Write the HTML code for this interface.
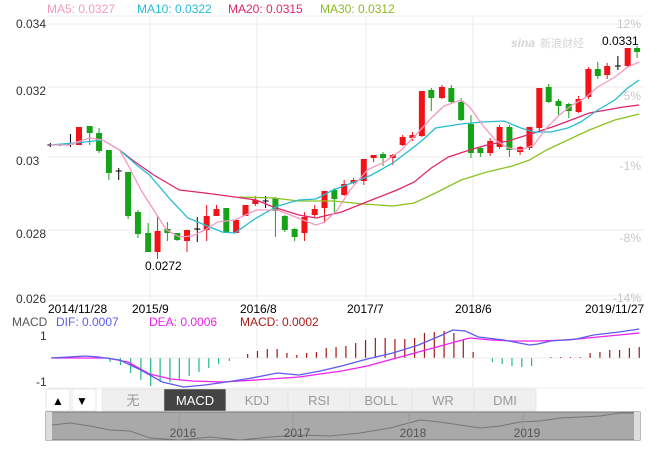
<!DOCTYPE html>
<html><head><meta charset="utf-8"><style>
body{margin:0;background:#fff;width:669px;height:452px;overflow:hidden;font-family:"Liberation Sans","Noto Sans CJK SC",sans-serif}
svg text{font-family:"Liberation Sans","Noto Sans CJK SC",sans-serif}
</style></head><body>
<svg id="s" width="669" height="452" xmlns="http://www.w3.org/2000/svg"></svg>
<script>
const K=0.427,X=z=>z*K;
let h='';
[24,87,157,230,296].forEach(y=>h+=`<line x1="48" x2="643" y1="${y}" y2="${y}" stroke="#ebebeb"/>`);
[150,257,366,473].forEach(x=>h+=`<line x1="${x}" x2="${x}" y1="16" y2="300" stroke="#ebebeb"/><line x1="${x}" x2="${x}" y1="328" y2="388" stroke="#ebebeb"/>`);
h+=`<line x1="48" x2="643" y1="16" y2="16" stroke="#eee"/><line x1="48" x2="643" y1="300" y2="300" stroke="#eee"/><line x1="48" x2="643" y1="388" y2="388" stroke="#eee"/>`;
h+=`<text x="47" y="13" font-size="12" fill="#f39ac0">MA5: 0.0327</text><text x="137" y="13" font-size="12" fill="#27bcd3">MA10: 0.0322</text><text x="228" y="13" font-size="12" fill="#e0266d">MA20: 0.0315</text><text x="320" y="13" font-size="12" fill="#8cbb1f">MA30: 0.0312</text>`;
[[24,'0.034'],[91,'0.032'],[161,'0.03'],[234,'0.028'],[299,'0.026']].forEach(a=>h+=`<text x="16" y="${a[0]+4}" font-size="12" fill="#333">${a[1]}</text>`);
[[28,'12%'],[100,'5%'],[170,'-1%'],[242,'-8%'],[302,'-14%']].forEach(a=>h+=`<text x="641" y="${a[0]}" font-size="12" fill="#c8c8c8" text-anchor="end">${a[1]}</text>`);
h+=`<text x="511" y="47" font-size="12" fill="#d5d5d5" font-style="italic" font-weight="bold">sina</text><text x="540" y="47" font-size="11" fill="#d5d5d5">新浪财经</text>`;
const C=[
['c',118,145,145,143,147],['c',140,145,145,144,146],['c',165,144,144,134,147],['r',185,145,127,127,145],['g',210,126,133,126,145],['g',232,133,151,128,153],
['g',255,150,173,150,180],['c',278,171,171,168,180],['g',300,172,216,172,219],['g',323,212,234,210,238],['g',347,233,252,223,252],['r',369,252,231,216,259],
['g',392,229,233,222,241],['g',415,233,240,233,241],['r',438,241,230,230,252],['c',462,229,229,217,242],['r',484,230,216,205,241],['r',507,216,209,205,216],
['g',530,208,233,208,233],['r',553,233,220,220,233],['r',575,216,205,205,216],['r',598,204,200,196,206],['c',622,201,201,196,208],['g',645,198,211,197,237],
['g',667,216,230,215,232],['g',690,229,237,228,241],['r',713,233,217,212,241],['r',737,215,209,205,217],['r',760,208,191,191,223],['g',783,190,199,188,212],
['r',806,195,184,180,196],['r',828,183,180,178,184],['r',852,181,159,159,185],['r',875,158,155,155,162],['g',897,154,158,152,166],['r',920,158,155,154,165],
['r',943,145,137,135,146],['r',966,138,135,132,141],['r',988,136,91,91,137],['g',1010,90,98,88,111],['r',1035,98,87,85,99],['g',1057,88,102,85,103],
['g',1080,102,120,98,121],['g',1103,124,153,115,158],['g',1125,148,153,147,157],['r',1148,153,141,138,156],['r',1170,147,127,125,149],['g',1193,127,150,125,157],
['r',1218,152,147,146,155],['r',1240,148,127,127,150],['r',1263,128,88,88,132],['g',1285,87,102,84,103],['g',1308,101,106,99,115],['g',1332,104,111,103,118],
['r',1355,112,99,96,113],['r',1378,97,69,67,99],['g',1400,69,76,62,79],['r',1422,75,66,63,79],['c',1447,66,66,56,70],['r',1470,66,48,48,67],['g',1492,48,52,46,58]];
C.forEach(c=>{const x=X(c[1]);const col=c[0]=='r'?'#f21318':c[0]=='g'?'#17a319':'#000';
 h+=`<line x1="${x}" x2="${x}" y1="${c[4]}" y2="${c[5]}" stroke="${col}"/>`;
 if(c[0]=='c')h+=`<line x1="${x-3}" x2="${x+3}" y1="${c[2]}" y2="${c[2]}" stroke="#000"/>`;
 else{const t=Math.min(c[2],c[3]),b=Math.max(c[2],c[3]);h+=`<rect x="${x-3}" y="${t}" width="6" height="${Math.max(b-t,1.5)}" fill="${col}"/>`;}
});
const P=(a,col,w)=>{h+=`<polyline fill="none" stroke="${col}" stroke-width="${w||1.3}" points="${a.map(p=>X(p[0])+','+p[1]).join(' ')}"/>`};
P([[560,197],[640,198],[700,201],[780,201],[850,204],[920,206],[970,203],[1020,193],[1080,180],[1140,172],[1200,166],[1240,160],[1280,150],[1330,140],[1380,130],[1440,120],[1497,114]],'#8cc21f');
P([[280,150],[310,160],[360,175],[420,190],[480,193],[550,197],[600,200],[640,207],[700,215],[740,218],[800,212],[870,200],[930,190],[970,182],[1010,168],[1050,157],[1100,150],[1140,145],[1190,141],[1250,133],[1300,126],[1350,118],[1380,113],[1420,110],[1460,107],[1497,105]],'#e0266d');
P([[118,145],[200,142],[240,140],[280,150],[320,165],[350,175],[400,200],[440,218],[480,225],[520,232],[550,233],[600,218],[650,206],[700,200],[740,199],[780,190],[830,182],[870,175],[920,163],[960,150],[990,140],[1020,128],[1050,126],[1080,124],[1130,122],[1180,121],[1220,128],[1250,132],[1290,132],[1330,128],[1360,122],[1400,110],[1440,100],[1470,88],[1497,80]],'#27bcd3');
P([[118,145],[160,145],[210,138],[240,140],[280,150],[300,165],[330,190],[360,210],[390,230],[420,237],[450,236],[480,230],[510,222],[550,220],[600,210],[650,210],[680,215],[710,220],[740,225],[760,222],[790,210],[820,190],[860,170],[900,162],[940,150],[980,132],[1010,118],[1040,106],[1080,100],[1100,107],[1130,125],[1160,140],[1190,148],[1220,150],[1250,145],[1280,128],[1310,115],[1340,105],[1370,98],[1400,87],[1440,77],[1470,67],[1497,62]],'#f39ac0');
h+=`<text x="602" y="45" font-size="12" fill="#000">0.0331</text><text x="145" y="270" font-size="12" fill="#000">0.0272</text>`;
[[48,'2014/11/28'],[132,'2015/9'],[240,'2016/8'],[347,'2017/7'],[455,'2018/6'],[585,'2019/11/27']].forEach(a=>h+=`<text x="${a[0]}" y="313" font-size="12" fill="#000">${a[1]}</text>`);
h+=`<text x="12" y="326" font-size="12" fill="#555">MACD</text><text x="56" y="326" font-size="12" fill="#5b5bf0">DIF: 0.0007</text><text x="149" y="326" font-size="12" fill="#ee22ee">DEA: 0.0006</text><text x="240" y="326" font-size="12" fill="#b01818">MACD: 0.0002</text>`;
h+=`<text x="40" y="340" font-size="12" fill="#333">1</text><text x="36" y="386" font-size="12" fill="#333">-1</text>`;
const B=[[258,362],[282,365],[306,373],[330,380],[353,386],[375,382],[398,382],[420,380],[443,376],[466,372],[489,368],[512,364],[537,361],
[580,354],[603,351],[626,349],[649,349],[672,353],[695,355],[718,353],[741,352],[764,348],[787,347],[810,346],[833,343],[856,340],[879,338],[902,338],[925,339],[948,339],[971,338],[994,333],[1017,332],[1040,331],[1063,333],[1085,340],[1108,352],
[1153,362],[1176,364],[1199,366],[1222,367],[1245,366],[1290,357],[1313,357],[1336,357],[1359,357],[1382,353],[1405,352],[1428,350],[1451,350],[1474,348],[1497,347]];
B.forEach(b=>h+=`<line x1="${X(b[0])}" x2="${X(b[0])}" y1="358" y2="${b[1]}" stroke="${b[1]>358?'#1db88a':'#a51616'}" stroke-width="1.2"/>`);
h+=`<line x1="${X(120)}" x2="${X(1497)}" y1="358" y2="358" stroke="#ddd" stroke-width="0.5"/>`;
P([[120,358],[250,358],[300,362],[350,374],[400,379],[450,381],[520,382],[600,380],[700,377],[800,371],[860,366],[920,359],[980,352],[1040,345],[1100,338],[1150,340],[1200,341],[1260,341],[1330,340],[1400,337],[1450,335],[1497,333]],'#ee22ee');
P([[120,358],[200,356],[230,357],[280,360],[330,370],[380,382],[430,387],[480,385],[530,382],[590,378],[650,373],[700,375],[750,371],[800,366],[860,359],[920,353],[980,345],[1030,336],[1060,330],[1090,331],[1120,337],[1180,340],[1240,345],[1260,344],[1290,341],[1350,339],[1390,335],[1450,332],[1497,329]],'#5b5bf0');
h+=`<rect x="46" y="389" width="24" height="22" fill="#fff" stroke="#e6e6e6"/><rect x="72" y="389" width="24" height="22" fill="#fff" stroke="#e6e6e6"/><text x="58" y="405" font-size="12" text-anchor="middle">▲</text><text x="82" y="405" font-size="12" text-anchor="middle">▼</text>`;
['无','MACD','KDJ','RSI','BOLL','WR','DMI'].forEach((t,i)=>{const x=102+i*62;const a=t=='MACD';
 h+=`<rect x="${x}" y="389" width="62" height="22" fill="${a?'#444':'#efefef'}" stroke="#ddd" stroke-width="0.5"/><text x="${x+31}" y="405" font-size="13" text-anchor="middle" fill="${a?'#fff':'#999'}">${t}</text>`;});
h+=`<rect x="46" y="412" width="594" height="28" fill="#a9a9a9" stroke="#777"/><rect x="46" y="412" width="6" height="28" fill="#ddd"/><rect x="634" y="412" width="6" height="28" fill="#ddd"/>`;
h+=`<polyline fill="none" stroke="#777" points="52,425 70,423 90,426 110,430 130,431 150,438 180,440 210,437 240,440 270,437 300,435 330,436 360,433 390,428 420,420 440,422 460,425 480,428 500,426 520,422 540,421 560,418 580,417 600,416 620,413 634,413"/>`;
[[183,'2016'],[297,'2017'],[413,'2018'],[527,'2019']].forEach(a=>{h+=`<line x1="${a[0]-4}" x2="${a[0]-4}" y1="412" y2="440" stroke="#9a9a9a"/><text x="${a[0]}" y="437" font-size="12" text-anchor="middle" fill="#555">${a[1]}</text>`});
document.getElementById('s').innerHTML=h;
</script>
</body></html>
